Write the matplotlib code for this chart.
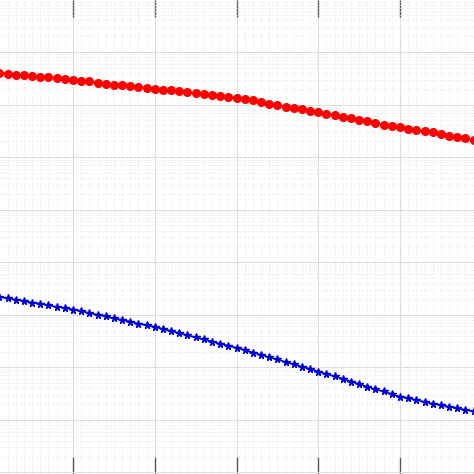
import numpy as np
import matplotlib.pyplot as plt
from matplotlib.ticker import LogLocator, MultipleLocator

x = np.round(np.arange(0.1, 5.95, 0.1), 1)
# log10 of the values
red_log = [2.60,2.59,2.57,2.56,2.54,2.53,2.52,2.50,2.49,2.47,
           2.45,2.44,2.42,2.40,2.38,2.37,2.35,2.33,2.32,2.30,
           2.28,2.27,2.25,2.23,2.22,2.20,2.18,2.17,2.15,2.13,
           2.10,2.08,2.05,2.02,1.99,1.96,1.94,1.91,1.88,1.86,
           1.83,1.80,1.77,1.74,1.71,1.68,1.65,1.62,1.60,1.57,
           1.54,1.52,1.49,1.47,1.44,1.41,1.39,1.36,1.33]
blue_log = [-1.66,-1.69,-1.71,-1.74,-1.77,-1.79,-1.82,-1.85,-1.87,-1.90,
            -1.93,-1.97,-2.00,-2.03,-2.07,-2.10,-2.13,-2.17,-2.20,-2.23,
            -2.27,-2.31,-2.35,-2.39,-2.43,-2.47,-2.51,-2.55,-2.59,-2.63,
            -2.67,-2.72,-2.76,-2.81,-2.85,-2.90,-2.94,-2.99,-3.03,-3.08,
            -3.13,-3.17,-3.22,-3.27,-3.32,-3.37,-3.42,-3.46,-3.51,-3.56,
            -3.59,-3.62,-3.66,-3.69,-3.72,-3.75,-3.78,-3.81,-3.84]
red = 10.0 ** np.array(red_log)
blue = 10.0 ** np.array(blue_log)

fig = plt.figure(figsize=(4.74, 4.74), dpi=100)
ax = fig.add_axes([0, 0, 1, 1])
ax.plot(x, red, '-o', color='red', ms=5.5, lw=1.2)
ax.plot(x, blue, '-*', color='#0000dd', ms=5.5, lw=1.2)

ax.set_yscale('log')
ax.set_xlim(0.107, 5.905)
ax.set_ylim(10**-5.03, 10**3.99)
ax.xaxis.set_major_locator(MultipleLocator(1))
ax.xaxis.set_minor_locator(MultipleLocator(0.1))
ax.yaxis.set_major_locator(LogLocator(base=10, numticks=20))
ax.yaxis.set_minor_locator(LogLocator(base=10, subs=np.arange(2, 10), numticks=20))
ax.grid(which='major', color='#dddddd', lw=0.8)
ax.grid(which='minor', color='#e4e4e4', lw=0.6, ls=':')
ax.tick_params(axis='x', which='major', direction='in', top=True, bottom=True,
               length=12, width=1, color='#555555', labelbottom=False)
ax.tick_params(axis='x', which='minor', length=0)
ax.tick_params(axis='y', which='both', length=0, labelleft=False)
for s in ax.spines.values():
    s.set_visible(False)
ax.set_axisbelow(True)
fig.savefig('out.png', dpi=100)
